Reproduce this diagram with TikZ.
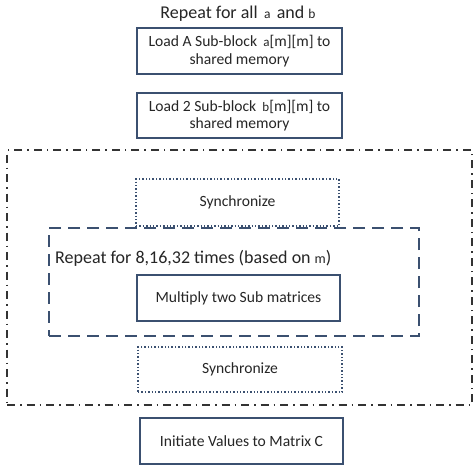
\documentclass[tikz,border=0pt]{standalone}
\usepackage{fontspec}
\setmainfont{Carlito}
\definecolor{boxblue}{HTML}{3B5070}
\definecolor{txt}{HTML}{262626}
\begin{document}
\begin{tikzpicture}[x=1pt,y=-1pt,
  solidbox/.style={draw=boxblue,line width=1.8pt,align=center,text=txt,inner sep=0pt},
  dotbox/.style={draw=boxblue,line width=1.4pt,dotted,align=center,text=txt,inner sep=0pt},
  dashbox/.style={draw=boxblue,line width=1.8pt,dash pattern=on 12pt off 7pt},
  dashdotbox/.style={draw=black!80,line width=1.4pt,dash pattern=on 8pt off 5pt on 1.5pt off 5pt},
  lbl/.style={text=txt,inner sep=0pt},
  every node/.append style={font=\fontsize{15.6}{17.5}\selectfont}]
\useasboundingbox (0,0) rectangle (474,466);
\fill[white] (0,0) rectangle (474,466);
\node[lbl,font=\fontsize{18}{20}\selectfont] (title) at (238,14) {Repeat for all {\fontsize{13.5}{15}\selectfont\,a\,} and {\fontsize{13.5}{15}\selectfont b}};
\node[solidbox,minimum width=205pt,minimum height=46pt] (l1) at (239.5,51) {Load A Sub-block \,{\fontsize{13}{15}\selectfont a}[m][m] to\\shared memory};
\node[solidbox,minimum width=205pt,minimum height=45pt] (l2) at (239.5,115.5) {Load 2 Sub-block \,{\fontsize{13}{15}\selectfont b}[m][m] to\\shared memory};
\node[dashdotbox,minimum width=465pt,minimum height=255pt,inner sep=0pt] (outer) at (239.5,277.5) {};
\node[dotbox,minimum width=203pt,minimum height=47pt] (s1) at (237.5,202.5) {Synchronize};
\node[dashbox,minimum width=370pt,minimum height=108pt,inner sep=0pt] (rep) at (234,282) {};
\node[lbl,anchor=west,font=\fontsize{18}{20}\selectfont] (replbl) at (55,258) {Repeat for 8,16,32 times (based on {\fontsize{14}{16}\selectfont m})};
\node[solidbox,minimum width=203pt,minimum height=46pt] (mul) at (238.5,298) {Multiply two Sub matrices};
\node[dotbox,minimum width=204pt,minimum height=45pt] (s2) at (240,369.5) {Synchronize};
\node[solidbox,minimum width=203pt,minimum height=46pt] (ini) at (241.5,441) {Initiate Values to Matrix C};
\end{tikzpicture}
\end{document}
